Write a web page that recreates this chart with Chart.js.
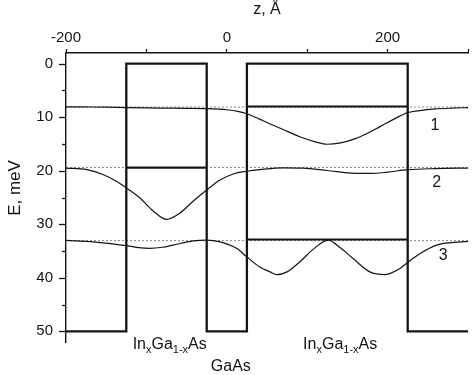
<!DOCTYPE html>
<html><head><meta charset="utf-8">
<script src="https://cdn.jsdelivr.net/npm/chart.js@4.4.1/dist/chart.umd.min.js"></script>
<style>html,body{margin:0;padding:0;background:#fff}#wrap{width:474px;height:375px;position:relative}</style>
</head><body><div id="wrap"><canvas id="c"></canvas></div>
<script>
// ---- data (z in Å, E in meV) ----
const potentialZ = [-200, -125, -125, -25, -25, 25, 25, 225, 225, 300];
const potentialE = [50, 50, 0, 0, 50, 50, 0, 0, 50, 50];

const levelNames   = ['1', '2', '3'];
const levelBaseE   = [8.1, 19.4, 33.05];   // dotted reference lines
const levelLineE   = [8.0, 19.4, 32.85];   // thick level lines inside the well
const levelWellFrom = [25, -125, 25];
const levelWellTo   = [225, -25, 225];
const levelLabelZ  = [259, 261, 269];
const levelLabelE  = [11.6, 22.2, 35.8];

const psi1Z = [-200, -175, -150, -125, -100, -75, -50, -25, 0, 15, 25, 40, 50, 70, 90, 110, 125, 140, 160, 175, 190, 200, 215, 225, 240, 260, 280, 300];
const psi1E = [8.05, 8.08, 8.12, 8.2, 8.27, 8.3, 8.33, 8.38, 8.6, 8.95, 9.35, 10.3, 11.0, 12.3, 13.6, 14.6, 15.05, 14.85, 14.0, 13.0, 11.8, 11.0, 9.8, 9.15, 8.75, 8.45, 8.3, 8.2];

const psi2Z = [-200, -174, -154, -137, -125, -108, -91, -75, -58, -42, -25, -8, 8, 25, 41, 70, 95, 125, 160, 180, 200, 225, 260, 300];
const psi2E = [19.5, 19.8, 20.7, 22.0, 23.2, 25.1, 27.6, 29.1, 27.9, 25.7, 23.6, 21.7, 20.6, 20.1, 19.8, 19.45, 19.5, 19.95, 20.5, 20.5, 20.25, 19.8, 19.6, 19.5];

const psi3Z = [-200, -166, -140, -125, -110, -96, -80, -67, -42, -25, -8, 12, 25, 41, 54, 62, 75, 91, 108, 126, 142, 157, 178, 197, 215, 226, 240, 261, 290, 300];
const psi3E = [33.0, 33.3, 33.7, 34.0, 34.35, 34.5, 34.3, 33.9, 33.1, 32.95, 33.3, 34.5, 36.1, 38.0, 38.9, 39.4, 38.9, 37.0, 34.6, 32.95, 34.5, 36.4, 38.9, 39.4, 38.3, 37.0, 35.5, 33.9, 33.3, 33.2];

const xTickValues = [-200, -100, 0, 100, 200, 300];
const xTickLabels = ['-200', '', '0', '', '200', ''];
const yTickValues = [0, 5, 10, 15, 20, 25, 30, 35, 40, 45, 50];
const yTickLabels = ['0', '', '10', '', '20', '', '30', '', '40', '', '50'];

const materialLabels = [
  {main: ['In', 'Ga', 'As'], subs: ['x', '1-x', ''], z: -71, E: 52.3},
  {main: ['In', 'Ga', 'As'], subs: ['x', '1-x', ''], z: 141, E: 52.3}
];
const barrierLabel = {text: 'GaAs', z: 5, E: 56.3};

// ---- helpers ----
const pts = (xs, ys) => xs.map((x, i) => ({x: x, y: ys[i]}));
const FONT = '"Liberation Sans", Arial, sans-serif';
const INK = '#141414';

const datasets = [];
datasets.push({data: pts(potentialZ, potentialE), borderColor: INK, borderWidth: 2.3, pointRadius: 0, tension: 0, order: 0, borderCapStyle: 'square', borderJoinStyle: 'miter'});
levelLineE.forEach((e, i) => {
  datasets.push({data: pts([levelWellFrom[i], levelWellTo[i]], [e, e]), borderColor: INK, borderWidth: 2.2, pointRadius: 0, order: 1});
});
[[psi1Z, psi1E], [psi2Z, psi2E], [psi3Z, psi3E]].forEach(([zz, ee]) => {
  datasets.push({data: pts(zz, ee), borderColor: INK, borderWidth: 1.2, pointRadius: 0, cubicInterpolationMode: 'monotone', order: 2});
});
levelBaseE.forEach((e) => {
  datasets.push({data: pts([-200, 300], [e, e]), borderColor: '#8a8a8a', borderWidth: 1, borderDash: [2, 2], pointRadius: 0, order: 3});
});

const yTickMarks = {
  id: 'yTickMarks',
  afterDraw(chart) {
    const ys = chart.scales.y, ctx = chart.ctx;
    ctx.save();
    ctx.strokeStyle = INK; ctx.lineWidth = 1.3;
    yTickValues.forEach((v, i) => {
      const py = Math.round(ys.getPixelForValue(v)) + 0.5;
      const len = yTickLabels[i] ? 7 : 4;
      ctx.beginPath(); ctx.moveTo(ys.right - len, py); ctx.lineTo(ys.right, py); ctx.stroke();
    });
    ctx.restore();
  }
};

const annotations = {
  id: 'annotations',
  afterDraw(chart) {
    const xs = chart.scales.x, ys = chart.scales.y, ctx = chart.ctx;
    ctx.save();
    ctx.fillStyle = INK;
    // level numbers
    ctx.font = '16px ' + FONT; ctx.textAlign = 'center'; ctx.textBaseline = 'middle';
    levelNames.forEach((n, i) => ctx.fillText(n, xs.getPixelForValue(levelLabelZ[i]), ys.getPixelForValue(levelLabelE[i])));
    // material labels
    ctx.textBaseline = 'alphabetic'; ctx.textAlign = 'left';
    materialLabels.forEach(m => {
      const mainF = '16px ' + FONT, subF = '11px ' + FONT;
      let w = 0;
      m.main.forEach((t, k) => { ctx.font = mainF; w += ctx.measureText(t).width; ctx.font = subF; w += ctx.measureText(m.subs[k]).width; });
      let x = xs.getPixelForValue(m.z) - w / 2;
      const base = ys.getPixelForValue(m.E) + 5.8;
      m.main.forEach((t, k) => {
        ctx.font = mainF; ctx.fillText(t, x, base); x += ctx.measureText(t).width;
        ctx.font = subF; ctx.fillText(m.subs[k], x, base + 3.5); x += ctx.measureText(m.subs[k]).width;
      });
    });
    ctx.font = '16px ' + FONT; ctx.textAlign = 'center';
    ctx.fillText(barrierLabel.text, xs.getPixelForValue(barrierLabel.z), ys.getPixelForValue(barrierLabel.E) + 5.8);
    // y axis title
    ctx.save();
    ctx.translate(20, 188); ctx.rotate(-Math.PI / 2);
    ctx.font = '17px ' + FONT; ctx.textAlign = 'center'; ctx.textBaseline = 'alphabetic';
    ctx.fillText('E, meV', 0, 0);
    ctx.restore();
    ctx.restore();
  }
};

new Chart(document.getElementById('c'), {
  type: 'line',
  data: {datasets: datasets},
  options: {
    responsive: true, maintainAspectRatio: false, animation: false,
    events: [],
    layout: {padding: {left: 0, top: 0, right: 6, bottom: 33}},
    plugins: {legend: {display: false}, tooltip: {enabled: false}},
    scales: {
      x: {
        type: 'linear', position: 'top', min: -200, max: 300,
        afterBuildTicks: s => { s.ticks = xTickValues.map(v => ({value: v})); },
        afterFit: s => { s.height = 53; },
        ticks: {autoSkip: false, maxRotation: 0, padding: 2, color: INK, font: {family: FONT, size: 15},
          callback: v => xTickLabels[xTickValues.indexOf(v)]},
        grid: {drawOnChartArea: false, drawTicks: true, tickLength: 4, tickColor: INK, tickWidth: 1.3},
        border: {display: true, color: INK, width: 1.4},
        title: {display: true, text: 'z, Å', color: INK, font: {family: FONT, size: 16}, padding: {top: 0, bottom: 0}}
      },
      y: {
        type: 'linear', reverse: true, min: -2, max: 52,
        afterBuildTicks: s => { s.ticks = yTickValues.map(v => ({value: v})); },
        afterFit: s => { s.width = 66; },
        ticks: {autoSkip: false, padding: 13, color: INK, font: {family: FONT, size: 15},
          callback: v => yTickLabels[yTickValues.indexOf(v)]},
        grid: {drawOnChartArea: false, drawTicks: false},
        border: {display: true, color: INK, width: 1.4}
      }
    }
  },
  plugins: [yTickMarks, annotations]
});
</script>
</body></html>
